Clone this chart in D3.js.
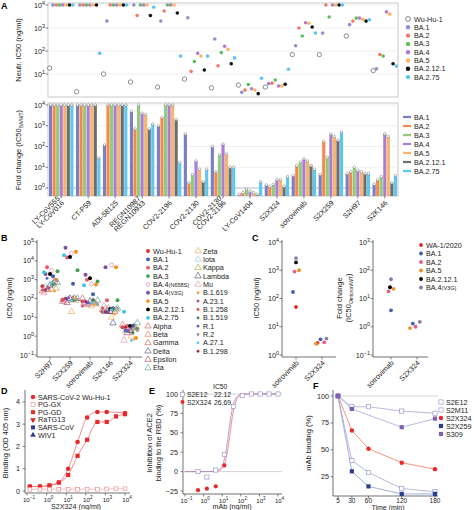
<!DOCTYPE html>
<html><head><meta charset="utf-8">
<script src="https://cdn.jsdelivr.net/npm/d3@7"></script>
<style>body{margin:0;background:#fff}svg{font-family:"Liberation Sans",Arial,sans-serif}</style>
</head><body><svg id="c" width="474" height="510"></svg>
<script>
// ---------- DATA ----------
const groupsA = [["LY-CoV555","LY-CoV016"],["CT-P59"],["ADI-58125"],["REGN10987","REGN10933"],["COV2-2196"],["COV2-2130"],["COV2-2130","COV2-2196"],["LY-CoV1404"],["S2X324"],["sotrovimab"],["S2X259"],["S2H97"],["S2K146"]];
const variantsA = ["Wu-Hu-1","BA.1","BA.2","BA.3","BA.4","BA.5","BA.2.12.1","BA.2.75"];
const ic50A = [
 [18,1e4,1e4,1e4,1e4,1e4,1e4,1e4],
 [1.7,1e4,1e4,1e4,1e4,1e4,1e4,80],
 [10,2000,1e4,1e4,1e4,1e4,1e4,1e4],
 [4.5,1e4,3500,1e4,1e4,1e4,3500,8000],
 [2.7,2000,5500,1e4,1e4,1e4,4500,60],
 [6,2800,13,35,80,60,15,60],
 [2.5,330,23,85,160,120,28,50],
 [3.3,1.6,2,3.5,2.3,2,1.4,6.5],
 [2.7,3.8,4,5.5,3,3,3.6,16],
 [70,170,1000,450,1700,1600,1100,600],
 [70,600,1e4,3000,1e4,1e4,1e4,1e4],
 [450,1400,2000,2700,2700,2400,2000,2300],
 [14,17,70,60,5000,4000,28,22]];
const foldA = [
 [1e4,1e4,1e4,1e4,1e4,1e4,1e4],
 [1e4,1e4,1e4,1e4,1e4,1e4,28],
 [120,1e4,1e4,1e4,1e4,1e4,1e4],
 [5000,700,1e4,4000,3500,700,1200],
 [1000,2500,1e4,1e4,1e4,2000,17],
 [400,1.8,4.5,20,8,2,8],
 [100,6,40,130,45,10,10],
 [0.5,0.6,0.9,0.7,0.6,0.5,2],
 [1.4,1.2,1.5,2.5,2.5,1.2,3.5],
 [4,12,18,25,20,12,8],
 [4.5,180,30,400,300,200,500],
 [5,6,10,7,6,5,5],
 [1.5,2.5,3.5,400,300,1.8,4]];
const mAbsB = ["S2H97","S2X259","sotrovimab","S2K146","S2X324"];
const variantsB = ["Wu-Hu-1","BA.1","BA.2","BA.3","BA.4(N658S)","BA.4(V3G)","BA.5","BA.2.12.1","BA.2.75","Alpha","Beta","Gamma","Delta","Epsilon","Eta","Zeta","Iota","Kappa","Lambda","Mu","B.1.619","A.23.1","B.1.258","B.1.519","R.1","R.2","A.27.1","B.1.298"];
const ic50B = [
 [450,1500,4500,2800,3000,2000,1000,2000,2500,800,300,250,600,300,700,300,400,350,500,200,250,350,280,600,1200,900,700,300],
 [80,600,15000,3200,25000,50000,30000,16000,20000,100,80,70,90,60,100,20,90,80,100,70,100,110,90,80,100,90,80,100],
 [70,170,1000,800,600,1800,550,1200,500,60,50,100,70,50,80,40,60,50,70,60,50,60,40,80,60,50,60,70],
 [20,30,80,80,6000,4500,4500,28,20,20,30,25,5,20,30,10,30,25,20,40,15,20,30,25,20,30,25,20],
 [3,3.5,3.5,2.5,1.5,2,0.8,3.5,20,3,2,4,3,1.5,5,1,2,2.5,2,0.6,0.7,2,3,1.5,2,2,0.6,3]];
const mAbsC = ["sotrovimab","S2X324"];
const variantsC = ["WA-1/2020","BA.1","BA.2","BA.5","BA.2.12.1","BA.4(V3G)"];
const ic50C = [[50,170,900,1000,1900,2700],[2.7,3.6,2.8,2.5,null,3.8]];
const foldC = [[null,3.8,18,22,25,48],[null,1.3,1.0,0.9,null,1.5]];
const concD = [0.14,0.46,1.4,4.2,12.6,38,117,390,1170,3500,10000];
const wuhuD = [0.2,0.2,0.25,0.38,1.0,2.2,3.3,3.55,3.55,null,3.5];
const pggdD = [0.2,0.2,0.25,0.38,0.72,1.58,2.3,3.1,3.1,3.35,3.45];
const pggxD = [0.08,0.08,0.08,0.08,0.08,0.08,0.08,0.08,0.09,0.1,0.1];
const concE = [0.5,1.5,4.5,13,40,120,370,1100,3300,10000];
const s2e12E = [0,-7,2,22,84,98,100,100,100,100];
const s2x324E = [-24,-22,-19,8,null,null,null,null,null,null];
const ic50E = [22.12,26.69];
const timeF = [5,30,60,120,180];
const seriesF = ["S2E12","S2M11","S2X324","S2X259","S309"];
const valuesF = [[100,90,90,86,84],[100,40,29,14,11],[100,68,51,38,32],[100,30,16,9,9],[100,88,null,71,79]];

// ---------- HELPERS ----------
const svg = d3.select("#c");
const FS = 7.2;
function txt(x,y,s,o={}){const t=svg.append("text").attr("x",x).attr("y",y).attr("font-size",o.fs||FS).attr("fill",o.fill||"#222").attr("text-anchor",o.anchor||"start").text(s);if(o.rot!=null)t.attr("transform",`rotate(${o.rot},${x},${y})`);if(o.bold)t.attr("font-weight","bold");return t;}
function sup(g,x,y,base,exp,anchor,fs){const t=g.append("text").attr("x",x).attr("y",y).attr("font-size",fs||FS).attr("text-anchor",anchor||"end").attr("fill","#222");t.append("tspan").text(base);t.append("tspan").attr("dy",-3).attr("font-size",(fs||FS)*0.75).text(exp);return t;}
function logAxisY(x,y,decs,fs){decs.forEach(d=>{const yy=y(Math.pow(10,d));svg.append("line").attr("x1",x-2.5).attr("x2",x).attr("y1",yy).attr("y2",yy).attr("stroke","#333").attr("stroke-width",.6);sup(svg,x-3,yy+2.5,"10",String(d).replace("-","−"),"end",fs);});}
function letter(x,y,s){txt(x,y,s,{fs:9,bold:true,fill:"#000"});}
function rotLabel(x,y,lines,fs){const g=svg.append("g").attr("transform",`translate(${x},${y}) rotate(-45)`);
  lines.forEach((n,k)=>g.append("text").attr("x",0).attr("y",(k-(lines.length-1))*6.2+2).attr("font-size",fs||FS).attr("text-anchor","end").attr("fill","#222").text(n));}
const colA = ["#8f90d0","#f07a6a","#5cbf5c","#b27ad2","#f8b862","#111","#5cc6ef"];
const colBar = ["#7b7fc4","#f3894b","#8fcc7d","#a77ed1","#f8b46a","#6d6d6d","#5ec8ec"];

// ---------- PANEL A TOP ----------
letter(1,9,"A");
const xA = d3.scaleBand().domain(d3.range(13)).range([48,398]).paddingInner(0.02);
const yAt = d3.scaleLog().domain([1,1e4]).range([97,5]);
svg.append("rect").attr("x",48).attr("y",3).attr("width",350).attr("height",94).attr("fill","none").attr("stroke","#bbb").attr("stroke-width",.8);
[1,2,3,4].forEach(d=>svg.append("line").attr("x1",48).attr("x2",398).attr("y1",yAt(10**d)).attr("y2",yAt(10**d)).attr("stroke","#e4e4e4").attr("stroke-width",.6));
logAxisY(48,yAt,[1,2,3,4]);
txt(21,50,"Neutr. IC50 (ng/ml)",{rot:-90,anchor:"middle",fs:7.5});
const inA = d3.scaleBand().domain(d3.range(8)).range([0,xA.bandwidth()]);
ic50A.forEach((row,g)=>row.forEach((v,i)=>{
  const cx=xA(g)+inA(i)+inA.bandwidth()/2, cy=yAt(v);
  if(i===0) svg.append("circle").attr("cx",cx).attr("cy",cy).attr("r",2.2).attr("fill","#fff").attr("stroke","#444").attr("stroke-width",.6);
  else svg.append("circle").attr("cx",cx).attr("cy",cy).attr("r",1.8).attr("fill",colA[i-1]);
}));
variantsA.forEach((v,i)=>{const y=19+i*8.3;
  if(i===0) svg.append("circle").attr("cx",408).attr("cy",y).attr("r",2.4).attr("fill","#fff").attr("stroke","#333").attr("stroke-width",.6);
  else svg.append("circle").attr("cx",408).attr("cy",y).attr("r",2.2).attr("fill",colA[i-1]);
  txt(414,y+2.5,v);});

// ---------- PANEL A BOTTOM ----------
const yAb = d3.scaleLog().domain([0.41,1e4]).range([196,105]);
svg.append("rect").attr("x",48).attr("y",103).attr("width",350).attr("height",93).attr("fill","none").attr("stroke","#bbb").attr("stroke-width",.8);
[0,1,2,3,4].forEach(d=>svg.append("line").attr("x1",48).attr("x2",398).attr("y1",yAb(10**d)).attr("y2",yAb(10**d)).attr("stroke",d===0?"#c8d4e4":"#e4e4e4").attr("stroke-width",d===0?1.6:.6));
logAxisY(48,yAb,[0,1,2,3,4]);
const tb = svg.append("text").attr("x",21).attr("y",150).attr("font-size",7.5).attr("text-anchor","middle").attr("transform","rotate(-90,21,150)").attr("fill","#222");
tb.append("tspan").text("Fold change (IC50");tb.append("tspan").attr("dy",2).attr("font-size",5).text("BA/WT");tb.append("tspan").attr("dy",-2).text(")");
const inB = d3.scaleBand().domain(d3.range(7)).range([1,xA.bandwidth()-1]).paddingInner(0.12);
foldA.forEach((row,g)=>row.forEach((v,i)=>{
  const x=xA(g)+inB(i);
  svg.append("rect").attr("x",x).attr("y",yAb(v)).attr("width",inB.bandwidth()).attr("height",196-yAb(v)).attr("fill",colBar[i]);
  svg.append("circle").attr("cx",x+inB.bandwidth()/2).attr("cy",yAb(v)).attr("r",1.3).attr("fill","#fff").attr("stroke","#555").attr("stroke-width",.4);
}));
["BA.1","BA.2","BA.3","BA.4","BA.5","BA.2.12.1","BA.2.75"].forEach((v,i)=>{const y=117+i*9;
  svg.append("line").attr("x1",403).attr("x2",411).attr("y1",y).attr("y2",y).attr("stroke",colBar[i]).attr("stroke-width",2.2);
  txt(414,y+2.5,v);});
groupsA.forEach((names,g)=>{const cx=xA(g)+xA.bandwidth()/2;
  svg.append("line").attr("x1",cx).attr("x2",cx).attr("y1",196).attr("y2",198.5).attr("stroke","#333").attr("stroke-width",.6);
  rotLabel(cx+2,202,names);});

// ---------- PANEL B ----------
letter(1,241,"B");
const yB = d3.scaleLog().domain([0.1,1e5]).range([355,242]);
const xB = d3.scalePoint().domain(mAbsB).range([50,130]);
svg.append("line").attr("x1",37).attr("x2",37).attr("y1",240).attr("y2",357).attr("stroke","#333").attr("stroke-width",.7);
svg.append("line").attr("x1",37).attr("x2",142).attr("y1",357).attr("y2",357).attr("stroke","#333").attr("stroke-width",.7);
logAxisY(37,yB,[-1,0,1,2,3,4,5]);
txt(12,298,"IC50 (ng/ml)",{rot:-90,anchor:"middle",fs:7.5});
const colB = ["#e02a2a","#3f5fb0","#ea5a6c","#3fa352","#e070a0","#7e4f9f","#f0921c","#000","#45c3e6","#e04a4a","#e2765a","#d3564e","#3a4a80","#a33a66","#3fa09a","#e6a24a","#86c5e6","#a8a445","#3e3e5e","#e288a8","#f2a54a","#a54aa4","#e24a5a","#2f8550","#6262c2","#999","#66c4e6","#a42a4a"];
const shapeB = v=> v<9? (v===4?"open":"filled") : (v<20? "tri":"dot");
function markB(g,cx,cy,i,sz){
  const s=shapeB(i), c=colB[i];
  if(s==="tri") g.append("path").attr("d",d3.symbol(d3.symbolTriangle,sz*9)()).attr("transform",`translate(${cx},${cy})`).attr("fill","none").attr("stroke",c).attr("stroke-width",.6);
  else if(s==="open") g.append("circle").attr("cx",cx).attr("cy",cy).attr("r",sz).attr("fill","#fff").attr("stroke",c).attr("stroke-width",.6);
  else g.append("circle").attr("cx",cx).attr("cy",cy).attr("r",s==="dot"?sz*0.75:sz).attr("fill",c);
}
ic50B.forEach((row,m)=>row.forEach((v,i)=>{const off=(((i*7)%11)-5)*1.5; markB(svg,xB(mAbsB[m])+off,yB(v),i,2);}));
mAbsB.forEach(m=>{const x=xB(m);svg.append("line").attr("x1",x).attr("x2",x).attr("y1",357).attr("y2",359.5).attr("stroke","#333").attr("stroke-width",.6);rotLabel(x+2,362,[m]);});
variantsB.forEach((v,i)=>{const col=i<15?0:1, r=i<15?i:i-15; const x=col?198:148, y=251+r*8.35;
  markB(svg,x,y,i,1.9);
  const t=svg.append("text").attr("x",x+5).attr("y",y+2.5).attr("font-size",FS).attr("fill","#222");
  const m=v.match(/^(BA\.4)(\(.*\))$/); if(m){t.append("tspan").text(m[1]);t.append("tspan").attr("font-size",5.5).text(m[2]);} else t.text(v);});

// ---------- PANEL C ----------
letter(252,241,"C");
const colC = ["#e02a2a","#3f5fb0","#ea5a8c","#f0921c","#000","#8a7aa8"];
const yC1 = d3.scaleLog().domain([1,1e4]).range([355,242]);
const xC1 = d3.scalePoint().domain(mAbsC).range([296,322]);
svg.append("line").attr("x1",282).attr("x2",282).attr("y1",240).attr("y2",357).attr("stroke","#333").attr("stroke-width",.7);
svg.append("line").attr("x1",282).attr("x2",336).attr("y1",357).attr("y2",357).attr("stroke","#333").attr("stroke-width",.7);
logAxisY(282,yC1,[0,1,2,3,4]);
txt(259,298,"IC50 (ng/ml)",{rot:-90,anchor:"middle",fs:7.5});
const offC=[0,-3,-1.5,3,0,0];
ic50C.forEach((row,m)=>row.forEach((v,i)=>{if(v==null)return;const o=m?[ -3,-1,1.5,-4,0,3][i]*1.5:offC[i];svg.append("circle").attr("cx",xC1(mAbsC[m])+o).attr("cy",yC1(v)).attr("r",1.9).attr("fill",colC[i]);}));
const yC2 = d3.scaleLog().domain([0.1,1e3]).range([355,242]);
const xC2 = d3.scalePoint().domain(mAbsC).range([391,417]);
svg.append("line").attr("x1",373).attr("x2",373).attr("y1",240).attr("y2",357).attr("stroke","#333").attr("stroke-width",.7);
svg.append("line").attr("x1",373).attr("x2",428).attr("y1",357).attr("y2",357).attr("stroke","#333").attr("stroke-width",.7);
logAxisY(373,yC2,[-1,0,1,2,3]);
txt(342,298,"Fold change",{rot:-90,anchor:"middle",fs:7.5});
const tc = svg.append("text").attr("x",351).attr("y",298).attr("font-size",7.5).attr("text-anchor","middle").attr("transform","rotate(-90,351,298)").attr("fill","#222");
tc.append("tspan").text("(IC50");tc.append("tspan").attr("dy",2).attr("font-size",5).text("Omicron/WT");tc.append("tspan").attr("dy",-2).text(")");
foldC.forEach((row,m)=>row.forEach((v,i)=>{if(v==null)return;const o=m?[0,-3,-1,-5,0,2][i]*1.4:[0,0,-2.5,2.5,-1,0][i];svg.append("circle").attr("cx",xC2(mAbsC[m])+o).attr("cy",yC2(v)).attr("r",1.9).attr("fill",colC[i]);}));
[xC1,xC2].forEach(sc=>mAbsC.forEach(m=>{const x=sc(m);svg.append("line").attr("x1",x).attr("x2",x).attr("y1",357).attr("y2",359.5).attr("stroke","#333").attr("stroke-width",.6);rotLabel(x+2,362,[m]);}));
variantsC.forEach((v,i)=>{const y=245+i*8.5;svg.append("circle").attr("cx",421).attr("cy",y).attr("r",1.9).attr("fill",colC[i]);
  const t=svg.append("text").attr("x",426).attr("y",y+2.5).attr("font-size",FS).attr("fill","#222");
  const m=v.match(/^(BA\.4)(\(.*\))$/); if(m){t.append("tspan").text(m[1]);t.append("tspan").attr("font-size",5.5).text(m[2]);} else t.text(v);});

// ---------- PANEL D ----------
letter(1,394,"D");
const xD = d3.scaleLog().domain([0.1,1e4]).range([27,125]);
const yD = d3.scaleLinear().domain([0,4.4]).range([491,393]);
svg.append("line").attr("x1",25).attr("x2",25).attr("y1",390).attr("y2",493).attr("stroke","#333").attr("stroke-width",.7);
svg.append("line").attr("x1",25).attr("x2",130).attr("y1",493).attr("y2",493).attr("stroke","#333").attr("stroke-width",.7);
[0,1,2,3,4].forEach(v=>{svg.append("line").attr("x1",22.5).attr("x2",25).attr("y1",yD(v)).attr("y2",yD(v)).attr("stroke","#333").attr("stroke-width",.6);txt(20,yD(v)+2.5,v,{anchor:"end"});});
[-1,0,1,2,3,4].forEach(d=>{const x=xD(10**d);svg.append("line").attr("x1",x).attr("x2",x).attr("y1",493).attr("y2",495.5).attr("stroke","#333").attr("stroke-width",.6);sup(svg,x+2,501.5,"10",String(d).replace("-","−"),"middle",6.2);});
txt(76,508.5,"S2X324 (ng/ml)",{anchor:"middle",fs:7.2});
txt(8,443,"Binding (OD 405 nm)",{rot:-90,anchor:"middle",fs:7.5});
const lineD = d3.line().defined(d=>d[1]!=null).x(d=>xD(d[0])).y(d=>yD(d[1])).curve(d3.curveMonotoneX);
[wuhuD,pggdD,pggxD].forEach((s,k)=>{const pts=concD.map((c,i)=>[c,s[i]]).filter(d=>d[1]!=null);
  svg.append("path").attr("d",lineD(pts)).attr("fill","none").attr("stroke",k===2?"#f4b0b0":"#f07070").attr("stroke-width",.8);
  pts.forEach(p=>{const x=xD(p[0]),y=yD(p[1]);
    if(k===0) svg.append("circle").attr("cx",x).attr("cy",y).attr("r",2.3).attr("fill","#e8282a");
    else if(k===1) svg.append("rect").attr("x",x-2.1).attr("y",y-2.1).attr("width",4.2).attr("height",4.2).attr("fill","#e8282a");
    else svg.append("rect").attr("x",x-1.9).attr("y",y-1.9).attr("width",3.8).attr("height",3.8).attr("fill","#fff").attr("stroke","#f08080").attr("stroke-width",.6);});});
const legD=["SARS-CoV-2 Wu-Hu-1","PG-GX","PG-GD","RaTG13","SARS-CoV","WIV1"];
legD.forEach((v,i)=>{const x=33,y=397+i*7.6;
  if(i===0) svg.append("circle").attr("cx",x).attr("cy",y).attr("r",2.2).attr("fill","#e8282a");
  else if(i===1) svg.append("rect").attr("x",x-2).attr("y",y-2).attr("width",4).attr("height",4).attr("fill","#fff").attr("stroke","#f08080").attr("stroke-width",.6);
  else if(i===2) svg.append("rect").attr("x",x-2).attr("y",y-2).attr("width",4).attr("height",4).attr("fill","#e8282a");
  else if(i===3) svg.append("path").attr("d",d3.symbol(d3.symbolTriangle,14)()).attr("transform",`translate(${x},${y}) rotate(180)`).attr("fill","#d02020");
  else if(i===4) svg.append("rect").attr("x",x-2).attr("y",y-2).attr("width",4).attr("height",4).attr("fill","#2c3f8f");
  else svg.append("path").attr("d",d3.symbol(d3.symbolTriangle,14)()).attr("transform",`translate(${x},${y})`).attr("fill","#2c3f8f");
  txt(38,y+2.5,v);});

// ---------- PANEL E ----------
letter(149,394,"E");
const xE = d3.scaleLog().domain([0.1,1e4]).range([185,278]);
const yE = d3.scaleLinear().domain([-25,100]).range([491,394]);
svg.append("line").attr("x1",183).attr("x2",183).attr("y1",390).attr("y2",494).attr("stroke","#333").attr("stroke-width",.7);
svg.append("line").attr("x1",183).attr("x2",282).attr("y1",494).attr("y2",494).attr("stroke","#333").attr("stroke-width",.7);
[0,100].forEach(v=>svg.append("line").attr("x1",183).attr("x2",282).attr("y1",yE(v)).attr("y2",yE(v)).attr("stroke","#cfcfcf").attr("stroke-width",.9));
[-25,0,25,50,75,100].forEach(v=>{svg.append("line").attr("x1",180.5).attr("x2",183).attr("y1",yE(v)).attr("y2",yE(v)).attr("stroke","#333").attr("stroke-width",.6);txt(178,yE(v)+2.5,String(v).replace("-","−"),{anchor:"end"});});
[-1,0,1,2,3,4].forEach(d=>{const x=xE(10**d);svg.append("line").attr("x1",x).attr("x2",x).attr("y1",494).attr("y2",496.5).attr("stroke","#333").attr("stroke-width",.6);sup(svg,x+1.5,502.5,"10",String(d).replace("-","−"),"middle",6);});
txt(232,509,"mAb (ng/ml)",{anchor:"middle",fs:7.2});
txt(152,443,"Inhibition of ACE2",{rot:-90,anchor:"middle",fs:7.5});
txt(161,443,"binding to the RBD (%)",{rot:-90,anchor:"middle",fs:7.5});
// fitted dose-response curves drawn from the IC50 values printed on the panel
const fitE = d3.range(-1,4.01,0.05).map(l=>10**l);
const hillE = ic=>fitE.map(c=>[c,100/(1+(ic/c)**3.2)]);
const lineE = d3.line().x(d=>xE(d[0])).y(d=>yE(d[1])).curve(d3.curveBasis);
svg.append("path").attr("d",lineE(hillE(ic50E[1]))).attr("fill","none").attr("stroke","#f07070").attr("stroke-width",.8);
svg.append("path").attr("d",lineE(hillE(ic50E[0]))).attr("fill","none").attr("stroke","#9c8ccc").attr("stroke-width",.8);
concE.forEach((c,i)=>{const x=xE(c);
  svg.append("rect").attr("x",x-2.1).attr("y",yE(s2e12E[i])-2.1).attr("width",4.2).attr("height",4.2).attr("fill","#fff").attr("stroke","#8a8acb").attr("stroke-width",.6);
  if(s2x324E[i]!=null) svg.append("circle").attr("cx",x).attr("cy",yE(s2x324E[i])).attr("r",2.1).attr("fill","#e8282a");});
txt(213,389,"IC50",{fs:6.8});
svg.append("rect").attr("x",180.5).attr("y",392.5).attr("width",4).attr("height",4).attr("fill","#fff").attr("stroke","#8a8acb").attr("stroke-width",.6);
txt(187,397,"S2E12",{fs:6.8});txt(214,397,ic50E[0].toFixed(2),{fs:6.8});
svg.append("circle").attr("cx",182.5).attr("cy",402).attr("r",2).attr("fill","#e8282a");
txt(187,404.5,"S2X324",{fs:6.8});txt(214,404.5,ic50E[1].toFixed(2),{fs:6.8});

// ---------- PANEL F ----------
letter(313,389,"F");
const xF = d3.scaleLinear().domain([5,180]).range([338,435]);
const yF = d3.scaleLinear().domain([8,100]).range([495,396]);
svg.append("line").attr("x1",333).attr("x2",333).attr("y1",390).attr("y2",496).attr("stroke","#333").attr("stroke-width",.7);
svg.append("line").attr("x1",333).attr("x2",438).attr("y1",496).attr("y2",496).attr("stroke","#333").attr("stroke-width",.7);
svg.append("line").attr("x1",333).attr("x2",438).attr("y1",yF(100)).attr("y2",yF(100)).attr("stroke","#cfcfcf").attr("stroke-width",.9);
[25,50,75,100].forEach(v=>{svg.append("line").attr("x1",330.5).attr("x2",333).attr("y1",yF(v)).attr("y2",yF(v)).attr("stroke","#333").attr("stroke-width",.6);txt(329,yF(v)+2.5,v,{anchor:"end"});});
timeF.forEach(t=>{svg.append("line").attr("x1",xF(t)).attr("x2",xF(t)).attr("y1",496).attr("y2",498.5).attr("stroke","#333").attr("stroke-width",.6);txt(xF(t),503,t,{anchor:"middle",fs:6.5});});
txt(388,509.5,"Time (min)",{anchor:"middle",fs:7});
txt(311,443,"mAb binding (%)",{rot:-90,anchor:"middle",fs:7.5});
const lineColF=["#a8a8d8","#a8a8d8","#f07a60","#8a9ad0","#a8a8d8"];
const fillF=[null,null,"#e8282a","#2c3f8f","#7e5fb0"];
const lineF = d3.line().defined(d=>d[1]!=null).x(d=>xF(d[0])).y(d=>yF(d[1]));
valuesF.forEach((s,k)=>{const pts=timeF.map((t,i)=>[t,s[i]]).filter(d=>d[1]!=null);
  svg.append("path").attr("d",lineF(pts)).attr("fill","none").attr("stroke",lineColF[k]).attr("stroke-width",.8);});
function markF(k,x,y){
  if(k===2) svg.append("circle").attr("cx",x).attr("cy",y).attr("r",2.2).attr("fill","#e8282a");
  else if(fillF[k]) svg.append("rect").attr("x",x-2.1).attr("y",y-2.1).attr("width",4.2).attr("height",4.2).attr("fill",fillF[k]);
  else svg.append("rect").attr("x",x-2.1).attr("y",y-2.1).attr("width",4.2).attr("height",4.2).attr("fill","#fff").attr("stroke","#8a8acb").attr("stroke-width",.6);}
valuesF.forEach((s,k)=>timeF.forEach((t,i)=>{if(s[i]!=null)markF(k,xF(t),yF(s[i]));}));
seriesF.forEach((v,k)=>{const y=402+k*8;markF(k,441,y);txt(446,y+2.5,v);});
</script></body></html>
